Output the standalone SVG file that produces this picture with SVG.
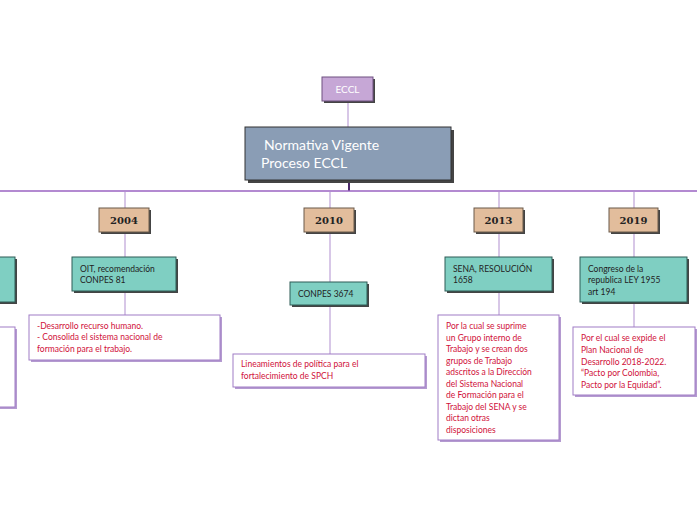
<svg xmlns="http://www.w3.org/2000/svg" width="697" height="520" viewBox="0 0 697 520">
<style>
text{font-family:Lato,"Open Sans",sans-serif;}
.sh{fill:#444;}
.year{fill:#e2bd9c;stroke:#6b5a4a;stroke-width:1;}
.yt{font-size:10px;font-weight:bold;fill:#222;text-anchor:middle;font-family:"DejaVu Serif",serif;}
.teal{fill:#7fcfc2;stroke:#2f5d57;stroke-width:1;}
.tt{font-size:8.5px;fill:#222;}
.note{fill:#fff;stroke:#a07cc5;stroke-width:1;}
.nsh{fill:#b49ad0;}
.nt{font-size:8.5px;fill:#d0113a;}
.ln{stroke:#b08fcf;stroke-width:1;fill:none;}
</style>
<rect width="697" height="520" fill="#fff"/>
<g id="connectors">
<line class="ln" x1="348" y1="101" x2="348" y2="127"/>
<line x1="349" y1="180" x2="349" y2="191" stroke="#4b2a6a" stroke-width="2"/>
<line x1="0" y1="191" x2="697" y2="191" stroke="#9a63c2" stroke-width="1.5"/>
<line class="ln" x1="125" y1="191" x2="125" y2="315"/>
<line class="ln" x1="330" y1="191" x2="330" y2="354"/>
<line class="ln" x1="499" y1="191" x2="499" y2="315"/>
<line class="ln" x1="634" y1="191" x2="634" y2="327"/>
</g>
<g id="eccl"><rect x="324" y="79" width="51" height="24" class="sh"/><rect x="322" y="77" width="51" height="24" fill="#c6a7d6" stroke="#6e5080"/><text x="347.5" y="93" font-size="10" fill="#fff" text-anchor="middle">ECCL</text></g>
<g id="main"><rect x="248" y="130" width="206" height="53" class="sh"/><rect x="245" y="127" width="206" height="53" fill="#8a9db5" stroke="#333"/><text x="264" y="150" font-size="14" fill="#fff">Normativa Vigente</text><text x="261" y="168" font-size="14" fill="#fff">Proceso ECCL</text></g>
<g id="left-teal"><rect x="-10" y="259" width="27" height="45" class="sh"/><rect x="-12" y="257" width="27" height="45" class="teal"/></g>
<g id="left-note"><rect x="-10" y="329" width="27" height="80" class="nsh"/><rect x="-12" y="327" width="27" height="80" class="note"/></g>
<g id="y2004"><rect x="101" y="210" width="50" height="24" class="sh"/><rect x="99" y="208" width="50" height="24" class="year"/><text x="124" y="224" class="yt">2004</text></g>
<g id="y2010"><rect x="306" y="210" width="50" height="24" class="sh"/><rect x="304" y="208" width="50" height="24" class="year"/><text x="329" y="224" class="yt">2010</text></g>
<g id="y2013"><rect x="476" y="210" width="49" height="24" class="sh"/><rect x="474" y="208" width="49" height="24" class="year"/><text x="498.5" y="224" class="yt">2013</text></g>
<g id="y2019"><rect x="611" y="210" width="49" height="24" class="sh"/><rect x="609" y="208" width="49" height="24" class="year"/><text x="633.5" y="224" class="yt">2019</text></g>
<g id="oit"><rect x="74" y="259" width="104" height="34" class="sh"/><rect x="72" y="257" width="104" height="34" class="teal"/><text x="80" y="272" class="tt">OIT, recomendación</text><text x="80" y="283" class="tt">CONPES 81</text></g>
<g id="conpes3674"><rect x="292" y="284" width="77" height="23" class="sh"/><rect x="290" y="282" width="77" height="23" class="teal"/><text x="298" y="297" class="tt">CONPES 3674</text></g>
<g id="sena"><rect x="447" y="259" width="107" height="34" class="sh"/><rect x="445" y="257" width="107" height="34" class="teal"/><text x="453" y="272" class="tt">SENA, RESOLUCIÓN</text><text x="453" y="283" class="tt">1658</text></g>
<g id="congreso"><rect x="582" y="259" width="107" height="45" class="sh"/><rect x="580" y="257" width="107" height="45" class="teal"/><text x="588" y="272" class="tt">Congreso de la</text><text x="588" y="283" class="tt">republica LEY 1955</text><text x="588" y="295" class="tt">art 194</text></g>
<g id="n2004"><rect x="31" y="317" width="191" height="45" class="nsh"/><rect x="29" y="315" width="191" height="45" class="note"/><text x="37" y="329" class="nt">-Desarrollo recurso humano.</text><text x="37" y="340" class="nt">- Consolida el sistema nacional de</text><text x="37" y="352" class="nt">formación para el trabajo.</text></g>
<g id="n2010"><rect x="235" y="356" width="192" height="33" class="nsh"/><rect x="233" y="354" width="192" height="33" class="note"/><text x="241" y="367" class="nt">Lineamientos de política para el</text><text x="241" y="379" class="nt">fortalecimiento de SPCH</text></g>
<g id="n2013"><rect x="440" y="317" width="121" height="125" class="nsh"/><rect x="438" y="315" width="121" height="125" class="note"/>
<text class="nt"><tspan x="446" y="329">Por la cual se suprime</tspan><tspan x="446" y="340.5">un Grupo interno de</tspan><tspan x="446" y="352">Trabajo y se crean dos</tspan><tspan x="446" y="363.5">grupos de Trabajo</tspan><tspan x="446" y="375">adscritos a la Dirección</tspan><tspan x="446" y="386.5">del Sistema Nacional</tspan><tspan x="446" y="398">de Formación para el</tspan><tspan x="446" y="409.5">Trabajo del SENA y se</tspan><tspan x="446" y="421">dictan otras</tspan><tspan x="446" y="432.5">disposiciones</tspan></text></g>
<g id="n2019"><rect x="575" y="329" width="122" height="68" class="nsh"/><rect x="573" y="327" width="122" height="68" class="note"/>
<text class="nt"><tspan x="581" y="341">Por el cual se expide el</tspan><tspan x="581" y="353">Plan Nacional de</tspan><tspan x="581" y="364.5">Desarrollo 2018-2022.</tspan><tspan x="581" y="376">“Pacto por Colombia,</tspan><tspan x="581" y="387.5">Pacto por la Equidad”.</tspan></text></g>
</svg>
